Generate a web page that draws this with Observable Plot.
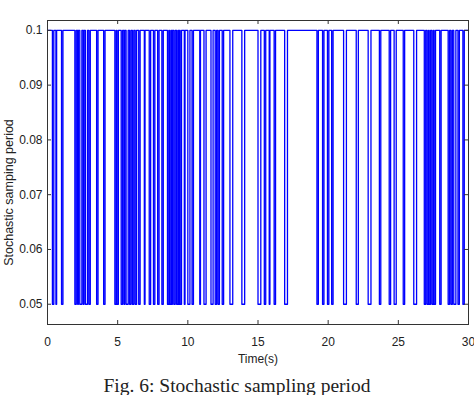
<!DOCTYPE html>
<html><head><meta charset="utf-8">
<script src="https://cdn.jsdelivr.net/npm/d3@7"></script>
<script src="https://cdn.jsdelivr.net/npm/@observablehq/plot@0.6"></script>
<style>
body{margin:0;background:#fff;}
figure{margin:0;}
figcaption{font-family:"Liberation Serif","Times New Roman",serif;font-size:19.5px;text-align:center;color:#222;line-height:24px;margin:0;padding-top:4px;}
</style></head><body><div id="chart"></div>
<script>
const lowStart = [0.35,0.6,1.0,1.95,2.15,2.3,2.55,2.7,2.95,3.5,4.0,4.8,4.95,5.25,5.45,5.6,5.85,
  6.05,6.25,6.5,6.9,7.25,7.55,7.85,8.15,8.55,8.7,8.85,9.0,9.2,9.35,9.45,9.75,10.0,10.3,10.85,11.15,11.65,
  11.95,12.15,12.45,13.0,13.85,15.0,15.45,15.8,16.15,16.9,
  19.2,19.6,19.95,20.25,21.1,22.0,22.85,23.65,
  24.35,24.7,25.35,26.1,26.85,27.05,27.2,27.4,27.55,27.95,28.55,28.75,28.95,29.25,29.6];
const lowEnd = [0.45,0.65,1.1,2.05,2.2,2.45,2.6,2.85,3.05,3.6,4.1,4.9,5.05,5.35,5.5,5.75,5.95,
  6.15,6.35,6.6,6.95,7.35,7.65,7.95,8.25,8.65,8.8,8.9,9.1,9.3,9.4,9.55,9.8,10.15,10.4,10.9,11.3,11.8,
  12.05,12.25,12.55,13.2,14.05,15.2,15.55,15.85,16.25,17.1,
  19.3,19.7,20.05,20.35,21.3,22.15,23.05,23.75,
  24.45,24.85,25.45,26.3,26.95,27.15,27.3,27.5,27.65,28.05,28.65,28.85,29.1,29.35,29.7];
const xTicks = [0,5,10,15,20,25,30];
const yTicks = [0.05,0.06,0.07,0.08,0.09,0.1];
const yLabel = ["Stochastic samping period"];
const highValue = 0.1, lowValue = 0.05, tEnd = 30;

const data = [{t:0, v:highValue}];
lowStart.forEach((s,i) => { data.push({t:s, v:lowValue}); data.push({t:lowEnd[i], v:highValue}); });
data.push({t:tEnd, v:highValue});

const H = 370, mt = 20, mb = H - 324, ml = 47, mr = 6;
const ph = H - mt - mb, pw = 474 - ml - mr;
const chart = Plot.plot({
  width: 474, height: H,
  marginTop: mt, marginBottom: mb, marginLeft: ml, marginRight: mr,
  style: {fontFamily: "'Liberation Sans', Arial, sans-serif", fontSize: "12px", color: "#222", background: "#fff"},
  x: {domain: [0, 30]},
  y: {domain: [0.0463, 0.1018]},
  caption: "Fig. 6: Stochastic sampling period",
  marks: [
    Plot.line(data, {x: "t", y: "v", curve: "step-after", stroke: "#0000ff", strokeWidth: 1.3}),
    Plot.tickX(xTicks, {x: d => d, insetTop: ph - 4, stroke: "#333"}),
    Plot.tickX(xTicks, {x: d => d, insetBottom: ph - 4, stroke: "#333"}),
    Plot.tickY(yTicks, {y: d => d, insetRight: pw - 4, stroke: "#333"}),
    Plot.tickY(yTicks, {y: d => d, insetLeft: pw - 4, stroke: "#333"}),
    Plot.frame({stroke: "#333"}),
    Plot.axisX(xTicks, {tickSize: 0, tickPadding: 13, label: "Time(s)", labelAnchor: "center", labelArrow: "none", labelOffset: 38, fontSize: 12}),
    Plot.axisY(yTicks, {tickSize: 0, tickPadding: 5, tickFormat: d3.format("~g"), label: null, fontSize: 12}),
    Plot.text(yLabel, {text: d => d, frameAnchor: "left", textAnchor: "middle", rotate: -90, dx: -39, dy: 20, fontSize: 12.5, fill: "#222"})
  ]
});
document.getElementById("chart").appendChild(chart);
</script></body></html>
